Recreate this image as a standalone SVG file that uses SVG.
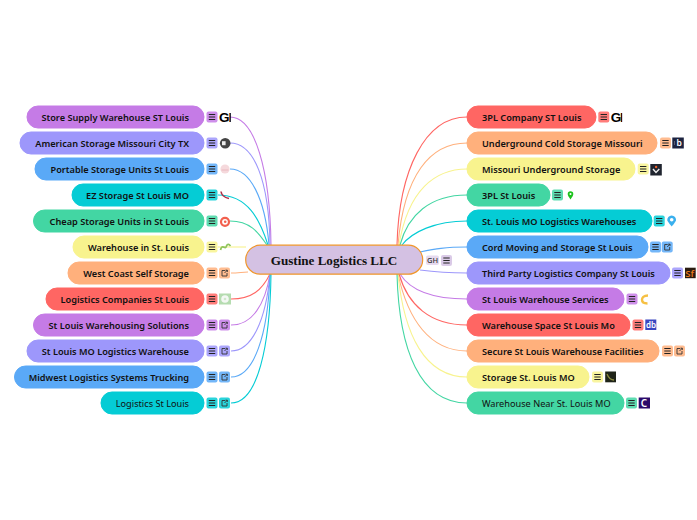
<svg xmlns="http://www.w3.org/2000/svg" width="697" height="520" viewBox="0 0 697 520">
<style>
text{font-family:"Noto Sans","Open Sans","DejaVu Sans",sans-serif;font-size:9.2px;font-weight:600;fill:#111}
.l{text-anchor:end}.n{font-weight:400}
.c path{fill:none;stroke-width:1.1}
.p{fill:#c57be6;stroke:#c57be6}.v{fill:#9d97fb;stroke:#9d97fb}.b{fill:#5aa9f7;stroke:#5aa9f7}.t{fill:#05ccd5;stroke:#05ccd5}.g{fill:#43d6a3;stroke:#43d6a3}.y{fill:#f8f38e;stroke:#f8f38e}.o{fill:#ffb07c;stroke:#ffb07c}.r{fill:#ff6663;stroke:#ff6663}
.c .p,.c .v,.c .b,.c .t,.c .g,.c .y,.c .o,.c .r{fill:none}
.bar{stroke:#222;stroke-width:1;fill:none}
.lk{fill:none;stroke:#333;stroke-width:.9}
.gi{font-family:"Liberation Sans",Arial,sans-serif;font-size:13.500px;font-weight:700;letter-spacing:-1.100px;fill:#000}
</style>
<defs>
<g id="note"><rect x="0" y="-0.500" width="11" height="11" rx="2" fill-opacity=".85" stroke="none"/><path class="bar" d="M2.300 2.500H8.700M2.300 5H8.700M2.300 7.500H8.700"/></g>
<g id="link"><rect x="0" y="-0.500" width="11" height="11" rx="2" fill-opacity=".85" stroke="none"/><path class="lk" d="M6 2.500H3V8H8V5M5.500 5L8.300 2.200M6.500 2.200H8.300V4"/></g>
<clipPath id="cl"><rect x="219" y="110" width="11.800" height="14"/></clipPath>
<clipPath id="cr"><rect x="610.700" y="110" width="11.500" height="14"/></clipPath>
</defs>
<g class="c" id="connectors">
<path class="p" d="M230 117C255 117 270 170 271 245"/>
<path class="v" d="M230 143C254 143 269 180 270 245"/>
<path class="b" d="M230 169C250 169 265 198 269 245"/>
<path class="t" d="M218 195C248 195 260 220 268 245"/>
<path class="g" d="M230 221C250 221 258 232 267 245"/>
<path class="y" d="M218 247H246"/>
<path class="o" d="M231 273C238 273 243 272 248 272"/>
<path class="r" d="M231 299C252 299 262 290 270 274"/>
<path class="p" d="M231 325C252 325 265 305 270 274"/>
<path class="v" d="M231 351C252 351 266 320 270 274"/>
<path class="b" d="M231 377C254 377 268 335 270 274"/>
<path class="t" d="M231 403C258 403 270 345 271 274"/>
<path class="r" d="M467 117C425 117 399 170 397 245"/>
<path class="o" d="M467 143C430 143 404 175 398 245"/>
<path class="y" d="M467 169C435 169 408 190 399 245"/>
<path class="g" d="M467 195C430 195 408 215 400 245"/>
<path class="t" d="M467 221C435 221 412 232 402 245"/>
<path class="b" d="M467 247C445 247 435 249 420 252"/>
<path class="v" d="M467 273C445 273 435 272 420 270"/>
<path class="p" d="M467 299C430 299 410 290 400 274"/>
<path class="r" d="M467 325C430 325 408 305 399 274"/>
<path class="o" d="M467 351C430 351 408 320 398 274"/>
<path class="y" d="M467 377C425 377 404 335 398 274"/>
<path class="g" d="M467 403C420 403 399 350 397 274"/>
</g>
<g id="center"><rect x="245.700" y="245.200" width="177" height="29" rx="14.500" fill="#d4c1e3" stroke="#f0962a" stroke-width="1.200"/><text x="334" y="265" text-anchor="middle" style="font-family:'Liberation Serif',serif;font-size:13.100px;font-weight:700;fill:#111">Gustine Logistics LLC</text>
<rect x="426" y="255.500" width="13" height="9.500" rx="2" fill="#e6daef"/><text x="432.500" y="263" text-anchor="middle" style="font-size:7.500px;font-weight:500;fill:#333">GH</text><use href="#note" x="441" y="255.500" fill="#d4c1e3" stroke="#d4c1e3"/></g>

<g id="n1"><rect class="p" x="27" y="106" width="177" height="22" rx="11" stroke="none"/><text class="l" x="189" y="120.500">Store Supply Warehouse ST Louis</text><use href="#note" class="p" x="206.500" y="112"/><text class="gi" x="219" y="122" clip-path="url(#cl)">GI</text></g>
<g id="n2"><rect class="v" x="20" y="132" width="184" height="22" rx="11" stroke="none"/><text class="l" x="189" y="146.500">American Storage Missouri City TX</text><use href="#note" class="v" x="206.500" y="138"/><circle cx="225.200" cy="143.200" r="5.300" fill="#444"/><rect x="222" y="141.200" width="3.600" height="4" fill="#eee"/></g>
<g id="n3"><rect class="b" x="35" y="158" width="169" height="22" rx="11" stroke="none"/><text class="l" x="189" y="172.500">Portable Storage Units St Louis</text><use href="#note" class="b" x="206.500" y="164"/><circle cx="225" cy="169" r="4.600" fill="#f5d9dc"/><path d="M221.500 170H228.500" stroke="#e7b0b8" stroke-width=".8"/></g>
<g id="n4"><rect class="t" x="72" y="184" width="132" height="22" rx="11" stroke="none"/><text class="l" x="189" y="198.500">EZ Storage St Louis MO</text><use href="#note" class="t" x="206.500" y="190"/><path d="M221 191.500C221.500 195.500 224 197.500 229 198.500" fill="none" stroke="#b03048" stroke-width="1.600"/></g>
<g id="n5"><rect class="g" x="33.500" y="210" width="170.500" height="22" rx="11" stroke="none"/><text class="l" x="189" y="224.500">Cheap Storage Units in St Louis</text><use href="#note" class="g" x="206.500" y="216"/><circle cx="225" cy="221.800" r="4" fill="#fff" stroke="#f2604e" stroke-width="2.200"/><circle cx="225.200" cy="221.800" r="1.300" fill="#f2604e"/></g>
<g id="n6"><rect class="y" x="73" y="236" width="131" height="22" rx="11" stroke="none"/><text class="l" x="189" y="250.500">Warehouse in St. Louis</text><use href="#note" class="y" x="206.500" y="242"/><path d="M220.500 250C222 243 225 250.500 226.500 246C227.500 243.500 229 244 230.500 246" fill="none" stroke="#8fc45c" stroke-width="1.800"/></g>
<g id="n7"><rect class="o" x="68" y="262" width="136" height="22" rx="11" stroke="none"/><text class="l" x="189" y="276.500">West Coast Self Storage</text><use href="#note" class="o" x="206.500" y="268"/><use href="#link" class="o" x="219" y="268"/></g>
<g id="n8"><rect class="r" x="46" y="288" width="158" height="22" rx="11" stroke="none"/><text class="l" x="189" y="302.500">Logistics Companies St Louis</text><use href="#note" class="r" x="206.500" y="294"/><rect x="219" y="293.500" width="12" height="11" fill="#b5dcb0"/><circle cx="225" cy="299" r="3.800" fill="#f4f8f4"/><circle cx="225" cy="299" r="1.300" fill="#cfe6cc"/></g>
<g id="n9"><rect class="p" x="33.500" y="314" width="170.500" height="22" rx="11" stroke="none"/><text class="l" x="189" y="328.500">St Louis Warehousing Solutions</text><use href="#note" class="p" x="206.500" y="320"/><use href="#link" class="p" x="219" y="320"/></g>
<g id="n10"><rect class="v" x="27" y="340" width="177" height="22" rx="11" stroke="none"/><text class="l" x="189" y="354.500">St Louis MO Logistics Warehouse</text><use href="#note" class="v" x="206.500" y="346"/><use href="#link" class="v" x="219" y="346"/></g>
<g id="n11"><rect class="b" x="14.500" y="366" width="189.500" height="22" rx="11" stroke="none"/><text class="l" x="189" y="380.500">Midwest Logistics Systems Trucking</text><use href="#note" class="b" x="206.500" y="372"/><use href="#link" class="b" x="219" y="372"/></g>
<g id="n12"><rect class="t" x="101" y="392" width="103" height="22" rx="11" stroke="none"/><text class="l n" x="189" y="406.500">Logistics St Louis</text><use href="#note" class="t" x="206.500" y="398"/><use href="#link" class="t" x="219" y="398"/></g>

<g id="n13"><rect class="r" x="467" y="106" width="129" height="22" rx="11" stroke="none"/><text x="482" y="120.500">3PL Company ST Louis</text><use href="#note" class="r" x="598.300" y="112"/><text class="gi" x="610.700" y="122" clip-path="url(#cr)">GI</text></g>
<g id="n14"><rect class="o" x="467" y="132" width="190" height="22" rx="11" stroke="none"/><text x="482" y="146.500">Underground Cold Storage Missouri</text><use href="#note" class="o" x="660" y="138"/><rect x="672.300" y="137.500" width="11.500" height="11" fill="#1d2340"/><text x="676.500" y="146.300" style="font-size:8.500px;fill:#fff">b</text><path d="M674.500 141.500V145" stroke="#99a" stroke-dasharray="1 1"/></g>
<g id="n15"><rect class="y" x="467" y="158" width="168" height="22" rx="11" stroke="none"/><text x="482" y="172.500">Missouri Underground Storage</text><use href="#note" class="y" x="637.700" y="164"/><rect x="650.300" y="164" width="11.500" height="11.500" fill="#20252f"/><path d="M653 169L656 172.500L659.300 169" fill="none" stroke="#eee" stroke-width="1.400"/><circle cx="656.100" cy="167" r="1.200" fill="#e8622c"/></g>
<g id="n16"><rect class="g" x="467" y="184" width="83" height="22" rx="11" stroke="none"/><text x="482" y="198.500">3PL St Louis</text><use href="#note" class="g" x="552" y="190"/><path d="M570.500 199.500C568.500 196.500 567.700 195.500 567.700 194A2.800 2.800 0 0 1 573.300 194C573.300 195.500 572.500 196.500 570.500 199.500Z" fill="#1cc21c" stroke="none"/><circle cx="570.500" cy="194" r="1" fill="#fff"/></g>
<g id="n17"><rect class="t" x="467" y="210" width="185" height="22" rx="11" stroke="none"/><text x="482" y="224.500">St. Louis MO Logistics Warehouses</text><use href="#note" class="t" x="653.700" y="216"/><path d="M671.700 226.500C668.200 222.500 667.300 220.500 667.300 220.500A4.400 4.400 0 1 1 676 220.500C676 220.500 675.200 222.500 671.700 226.500Z" fill="#3ab0ee" stroke="none"/><circle cx="671.700" cy="219.800" r="1.800" fill="#fff"/></g>
<g id="n18"><rect class="b" x="467" y="236" width="181" height="22" rx="11" stroke="none"/><text x="482" y="250.500">Cord Moving and Storage St Louis</text><use href="#note" class="b" x="650" y="242"/><use href="#link" class="b" x="661.700" y="242"/></g>
<g id="n19"><rect class="v" x="467" y="262" width="203" height="22" rx="11" stroke="none"/><text x="482" y="276.500">Third Party Logistics Company St Louis</text><use href="#note" class="v" x="672" y="268"/><rect x="685" y="267.700" width="10.700" height="10.500" fill="#2a1c10"/><text x="685.300" y="277" style="font-size:9.500px;fill:#e8781e">Sf</text></g>
<g id="n20"><rect class="p" x="467" y="288" width="157" height="22" rx="11" stroke="none"/><text x="482" y="302.500">St Louis Warehouse Services</text><use href="#note" class="p" x="626.500" y="294"/><path d="M648 295.500C643.500 295.500 642 298 642 299.800C642 301.800 644 303.500 647.500 303.500" fill="none" stroke="#f6c043" stroke-width="2.400"/></g>
<g id="n21"><rect class="r" x="467" y="314" width="163" height="22" rx="11" stroke="none"/><text x="482" y="328.500">Warehouse Space St Louis Mo</text><use href="#note" class="r" x="632.500" y="320"/><rect x="645.300" y="319.500" width="11" height="10.500" fill="#3a46c0"/><text x="646.100" y="328" style="font-size:8px;fill:#fff">db</text></g>
<g id="n22"><rect class="o" x="467" y="340" width="192" height="22" rx="11" stroke="none"/><text x="482" y="354.500">Secure St Louis Warehouse Facilities</text><use href="#note" class="o" x="662" y="346"/><use href="#link" class="o" x="674" y="346"/></g>
<g id="n23"><rect class="y" x="467" y="366" width="122" height="22" rx="11" stroke="none"/><text x="482" y="380.500">Storage St. Louis MO</text><use href="#note" class="y" x="592" y="372"/><rect x="605.200" y="371.500" width="10.800" height="10.800" fill="#1f2418"/><path d="M607 374C609 379 611 380 614 380" fill="none" stroke="#8a8a40" stroke-width="1.300"/></g>
<g id="n24"><rect class="g" x="467" y="392" width="157" height="22" rx="11" stroke="none"/><text class="n" x="482" y="406.500">Warehouse Near St. Louis MO</text><use href="#note" class="g" x="626" y="398"/><rect x="638.700" y="397.500" width="11.300" height="11" fill="#2c0a6a"/><text x="640.800" y="406.800" style="font-size:10px;fill:#fff">C</text></g>
</svg>
